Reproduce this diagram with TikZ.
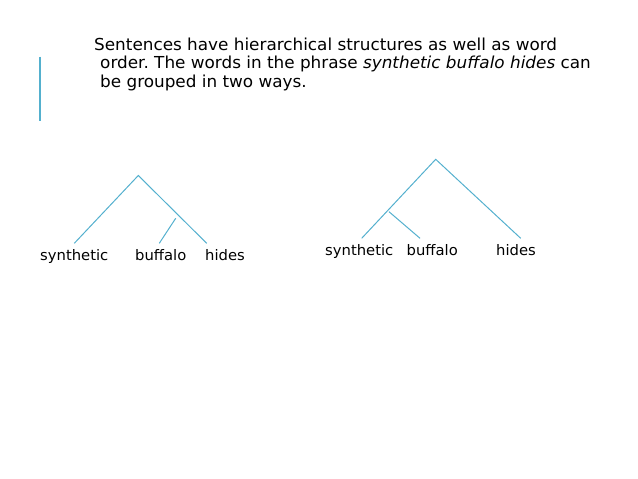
\documentclass[tikz,border=0pt]{standalone}
\usepackage{fontspec}
\setmainfont{DejaVu Sans}
\newfontfamily\titlefont[FakeStretch=1.02]{DejaVu Sans}
\definecolor{treeblue}{RGB}{84,176,206}
\frenchspacing
\begin{document}
\begin{tikzpicture}[x=1pt,y=-1pt,
  branch/.style={draw=treeblue,line width=1pt},
  titleline/.style={anchor=base west,inner sep=0pt,font=\titlefont\fontsize{16.5}{18}\selectfont},
  leaf/.style={anchor=base west,inner sep=0pt,font=\titlefont\fontsize{14.5}{16}\selectfont}]
\useasboundingbox (0,0) rectangle (638,479);
\draw[treeblue,line width=2pt] (39.5,56.5) coordinate (bartop) -- (39.5,121) coordinate (barbot);
\node[titleline] (t1) at (94,50.5) {Sentences have hierarchical structures as well as word};
\node[titleline] (t2) at (100,68.5) {order. The words in the phrase \textit{synthetic buffalo hides} can};
\node[titleline] (t3) at (100,87) {be grouped in two ways.};
% left tree
\node[leaf] (ls) at (40,260.5) {synthetic};
\node[leaf] (lb) at (135,260.5) {buffalo};
\node[leaf] (lh) at (205,260.5) {hides};
\coordinate (la) at (138.3,175.5);
\coordinate (lsl) at (74.3,243.3);
\coordinate (lhl) at (206.7,243.3);
\coordinate (lbt) at (175.7,218.3);
\coordinate (lbl) at (159.3,243.3);
\draw[branch] (lsl) -- (la) -- (lhl);
\draw[branch] (lbt) -- (lbl);
% right tree
\node[leaf] (rs) at (325,255.5) {synthetic};
\node[leaf] (rb) at (406.5,255.5) {buffalo};
\node[leaf] (rh) at (496,255.5) {hides};
\coordinate (ra) at (435.7,159.3);
\coordinate (rsl) at (361.7,238.3);
\coordinate (rhl) at (520.7,238.3);
\coordinate (rbt) at (389,211.7);
\coordinate (rbl) at (420,238.3);
\draw[branch] (rsl) -- (ra) -- (rhl);
\draw[branch] (rbt) -- (rbl);
\end{tikzpicture}
\end{document}
